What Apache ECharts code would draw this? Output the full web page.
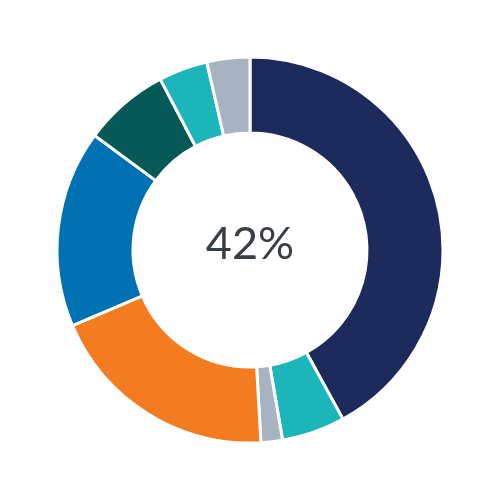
<!DOCTYPE html>
<html>
<head>
<meta charset="utf-8">
<script src="https://cdn.jsdelivr.net/npm/echarts@6/dist/echarts.min.js"></script>
<style>
  html, body { margin: 0; padding: 0; background: #fff; }
  #chart { width: 500px; height: 500px; }
</style>
</head>
<body>
<div id="chart"></div>
<script>
// slices clockwise from 12 o'clock (percent)
var sliceNames = ['A', 'B', 'C', 'D', 'E', 'F', 'G', 'H'];
var sliceValues = [42, 5.3, 1.8, 19.5, 16.5, 7.2, 4.1, 3.6];
var sliceColors = ['#1d2a5c', '#1cb5b9', '#a8b3c2', '#f47c20', '#0071b2', '#075957', '#1cb5b9', '#a8b3c2'];
var centerLabel = '42%';

var myChart = echarts.init(document.getElementById('chart'));

var pieData = sliceValues.map(function (v, i) {
    return { name: sliceNames[i], value: v, itemStyle: { color: sliceColors[i] } };
});

var option = {
    backgroundColor: '#fff',
    animation: false,
    graphic: [{
        type: 'text',
        left: 'center',
        top: 222,
        style: {
            text: centerLabel,
            fontSize: 45,
            fontFamily: 'Lato',
            fontWeight: 'normal',
            fill: '#3a3f45'
        }
    }],
    series: [{
        type: 'pie',
        center: [250, 250],
        radius: [117, 193],
        startAngle: 90,
        clockwise: true,
        label: { show: false },
        labelLine: { show: false },
        emphasis: { disabled: true },
        itemStyle: {
            borderColor: '#fff',
            borderWidth: 3
        },
        data: pieData
    }]
};
myChart.setOption(option);
</script>
</body>
</html>
